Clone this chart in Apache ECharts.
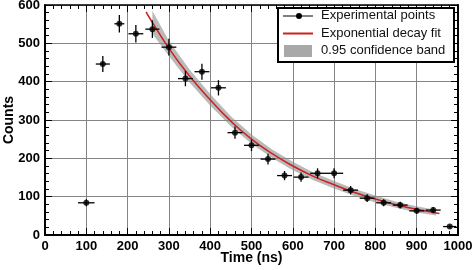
<!DOCTYPE html>
<html>
<head>
<meta charset="utf-8">
<script src="https://cdn.jsdelivr.net/npm/echarts@6/dist/echarts.min.js"></script>
<style>
html,body{margin:0;padding:0;background:#fff;}
#chart{width:474px;height:270px;}
</style>
</head>
<body>
<div id="chart"></div>
<script>
// Experimental points (time in ns, counts) with error bars
const times  = [100,140,180,220,260,300,340,380,420,460,500,540,580,620,660,700,740,780,820,860,900,940,980];
const counts = [84,446,551,525,537,490,408,426,384,267,234,198,155,151,161,161,117,96,84,78,63,65,22];
const xErr   = [20,17,12,18,17,18,18,18,18,18,18,18,18,18,18,22,18,18,18,18,18,18,16];
const yErr   = [9,21,23,23,23,22,20,21,20,16,15,14,12,12,13,13,11,10,9,9,8,8,5];

// Exponential decay fit
const fitX = [245,250,300,350,400,450,500,550,600,650,700,750,800,850,900,955];
const fitY = [582,572,487,415,353,297,250,212,180,153,131,111,94,79,67,56];

// 0.95 confidence band (read from the shaded area)
const bandX  = [260,300,350,400,450,500,550,600,650,700,750,800,850,900,947];
const bandHi = [585,507,432,368,310,262,223,191,163,141,120,103,87,75,65];
const bandLo = [525,467,398,338,284,238,201,169,143,121,102,85,71,59,51];

// Axis ranges / ticks
const xMin = 0, xMax = 1000, xStep = 100;
const yMin = 0, yMax = 600, yStep = 100;

const legendLabels = ['Experimental points','Exponential decay fit','0.95 confidence band'];

const chart = echarts.init(document.getElementById('chart'), null, {renderer:'canvas'});

const labelFont = {fontFamily:'Liberation Sans, Arial, Helvetica, sans-serif', fontWeight:'bold', fontSize:13, color:'#000'};
const gridLineStyle = {color:'#858585', width:1};

function baseAxis(extra){
  return Object.assign({
    type:'value',
    axisLine:{show:true, onZero:false, lineStyle:{color:'#000', width:2}},
    axisTick:{show:true, inside:true, length:7, lineStyle:{color:'#000', width:1}},
    minorTick:{show:true, splitNumber:5, length:4, lineStyle:{color:'#000', width:1}},
    splitLine:{show:false},
  }, extra);
}

const option = {
  animation:false,
  backgroundColor:'#fff',
  grid:{left:45, right:16, top:5, bottom:35, containLabel:false, outerBoundsMode:'none'},
  xAxis:[
    baseAxis({
      position:'bottom', min:xMin, max:xMax, interval:xStep,
      axisLabel:Object.assign({margin:5, formatter:function(v){return String(v);}}, labelFont),
      splitLine:{show:true, lineStyle:gridLineStyle},
      name:'Time (ns)', nameLocation:'middle', nameGap:16, nameMoveOverlap:false,
      nameTextStyle:Object.assign({}, labelFont, {fontSize:14})
    }),
    baseAxis({
      position:'top', min:xMin, max:xMax, interval:xStep,
      axisLabel:{show:false},
      axisLine:{show:true, onZero:false, lineStyle:{color:'#000', width:1.5}}
    })
  ],
  yAxis:[
    baseAxis({
      position:'left', min:yMin, max:yMax, interval:yStep,
      axisLabel:Object.assign({margin:5, formatter:function(v){return String(v);}}, labelFont),
      splitLine:{show:true, lineStyle:gridLineStyle},
      name:'Counts', nameLocation:'middle', nameGap:29, nameRotate:90, nameMoveOverlap:false,
      nameTextStyle:Object.assign({}, labelFont, {fontSize:14})
    }),
    baseAxis({
      position:'right', min:yMin, max:yMax, interval:yStep,
      axisLabel:{show:false},
      axisLine:{show:true, onZero:false, lineStyle:{color:'#000', width:2}}
    })
  ],
  series:[
    {
      name:legendLabels[2],
      type:'custom',
      xAxisIndex:0, yAxisIndex:0,
      z:2,
      silent:true,
      data:[[0]],
      renderItem:function(params, api){
        const pts = [];
        for (let i=0;i<bandX.length;i++) pts.push(api.coord([bandX[i], bandHi[i]]));
        for (let i=bandX.length-1;i>=0;i--) pts.push(api.coord([bandX[i], bandLo[i]]));
        return {type:'polygon', shape:{points:pts}, style:{fill:'rgba(140,140,140,0.6)', stroke:null}};
      }
    },
    {
      name:legendLabels[1],
      type:'line',
      xAxisIndex:0, yAxisIndex:0,
      z:3,
      showSymbol:false,
      smooth:true,
      data:fitX.map((x,i)=>[x, fitY[i]]),
      lineStyle:{color:'#cc2020', width:1.5}
    },
    {
      name:'errors',
      type:'custom',
      xAxisIndex:0, yAxisIndex:0,
      z:4,
      silent:true,
      data:times.map((t,i)=>[t, counts[i], xErr[i], yErr[i]]),
      renderItem:function(params, api){
        const x=api.value(0), y=api.value(1), ex=api.value(2), ey=api.value(3);
        const l=api.coord([x-ex,y]), r=api.coord([x+ex,y]);
        const t=api.coord([x,y+ey]), b=api.coord([x,y-ey]);
        const st={stroke:'#000', lineWidth:1.3};
        return {type:'group', children:[
          {type:'line', shape:{x1:l[0],y1:l[1],x2:r[0],y2:r[1]}, style:st},
          {type:'line', shape:{x1:t[0],y1:t[1],x2:b[0],y2:b[1]}, style:st}
        ]};
      }
    },
    {
      name:legendLabels[0],
      type:'scatter',
      xAxisIndex:0, yAxisIndex:0,
      z:5,
      symbol:'circle',
      symbolSize:6,
      itemStyle:{color:'#000'},
      data:times.map((t,i)=>[t, counts[i]])
    }
  ],
  graphic:[
    {type:'rect', left:277, top:7, shape:{width:176, height:54}, style:{fill:'#fff', stroke:'#000', lineWidth:2}, z:100},
    {type:'line', shape:{x1:283,y1:16,x2:313,y2:16}, style:{stroke:'#000', lineWidth:1}, z:101},
    {type:'circle', shape:{cx:299, cy:16, r:3}, style:{fill:'#000'}, z:101},
    {type:'line', shape:{x1:283,y1:33.5,x2:313,y2:33.5}, style:{stroke:'#cc2020', lineWidth:2}, z:101},
    {type:'rect', shape:{x:284, y:45, width:28, height:12}, style:{fill:'#a8a8a8'}, z:101},
    {type:'text', left:321, top:9, style:{text:legendLabels[0], fontFamily:'Liberation Sans, Arial, sans-serif', fontSize:13, fill:'#111'}, z:101},
    {type:'text', left:321, top:27, style:{text:legendLabels[1], fontFamily:'Liberation Sans, Arial, sans-serif', fontSize:13, fill:'#111'}, z:101},
    {type:'text', left:321, top:44, style:{text:legendLabels[2], fontFamily:'Liberation Sans, Arial, sans-serif', fontSize:13, fill:'#111'}, z:101}
  ]
};
chart.setOption(option);
</script>
</body>
</html>
